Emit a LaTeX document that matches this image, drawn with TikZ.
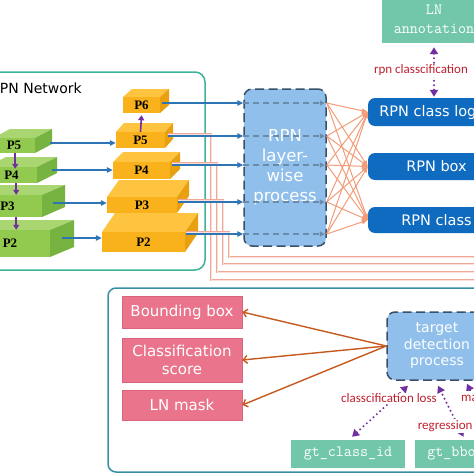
\documentclass[tikz,border=0pt]{standalone}
\usepackage{fontspec}
\setmainfont{DejaVu Sans}
\newfontfamily\lblfont{Carlito}
\newfontfamily\pfont{Liberation Serif}
\usetikzlibrary{arrows.meta,calc}
\definecolor{gfront}{HTML}{92C94F}
\definecolor{gtop}{HTML}{AAD672}
\definecolor{gside}{HTML}{77B340}
\definecolor{ofront}{HTML}{F9B21B}
\definecolor{otop}{HTML}{FFC43F}
\definecolor{oside}{HTML}{E9A010}
\definecolor{arrblue}{HTML}{2E75B6}
\definecolor{purp}{HTML}{7030A0}
\definecolor{peachc}{HTML}{EFA898}
\definecolor{peachin}{HTML}{FBE0D8}
\definecolor{fanc}{HTML}{F39C78}
\definecolor{lblue}{HTML}{8FBFEA}
\definecolor{dashc}{HTML}{3A5068}
\definecolor{inarr}{HTML}{6A8BAA}
\definecolor{dblue}{HTML}{0E6BC0}
\definecolor{mint}{HTML}{72C7AA}
\definecolor{redlbl}{HTML}{C0202F}
\definecolor{pinkc}{HTML}{E9748B}
\definecolor{pinkd}{HTML}{D8657C}
\definecolor{brownc}{HTML}{C65A1E}
\definecolor{netc}{HTML}{3DB39B}
\definecolor{botc}{HTML}{3A8FA6}
\tikzset{
  face/.style={inner sep=0pt, font=\pfont\bfseries\fontsize{13}{13}\selectfont},
  barrow/.style={draw=arrblue, line width=1.3pt, -{Triangle[length=6pt,width=5.5pt]}},
  dbox/.style={draw=dashc, fill=lblue, line width=1.5pt, dash pattern=on 9pt off 4.5pt, rounded corners=8pt, text=white, align=center, inner sep=0pt},
  bluebox/.style={fill=dblue, rounded corners=7pt, text=white, inner sep=0pt, font=\fontsize{14.5}{17}\selectfont},
  mintbox/.style={fill=mint, text=white, inner sep=0pt, font=\ttfamily\fontsize{15.6}{19}\selectfont, align=center},
  pinkbox/.style={fill=pinkc, draw=pinkd, line width=0.6pt, text=white, inner sep=0pt, align=center, font=\fontsize{15}{18}\selectfont},
  lbl/.style={text=redlbl, font=\lblfont\fontsize{13}{13}\selectfont, fill=white, inner sep=1pt},
  pdot/.style={draw=purp, line width=2.2pt, dash pattern=on 0pt off 4.5pt, line cap=round, {Triangle[length=7pt,width=8pt]}-{Triangle[length=7pt,width=8pt]}},
  fan/.style={draw=fanc, line width=1pt, -{Triangle[length=6pt,width=4.5pt]}},
  peach/.style={draw=peachc, line width=0.8pt, double=peachin, double distance=1pt},
  inarrow/.style={draw=inarr, line width=1.2pt, dash pattern=on 6pt off 4pt, -{Triangle[length=5pt,width=5pt]}},
  brarrow/.style={draw=brownc, line width=1.4pt, -{Straight Barb[length=4pt,width=8pt]}},
  parrow/.style={draw=purp, line width=1.6pt, -{Triangle[length=5pt,width=6pt]}},
  framebox/.style={line width=1.5pt, rounded corners=10pt}
}
% #1 name, #2 x1, #3 y1, #4 x2, #5 y2, #6 dx, #7 dy, #8 colour prefix, #9 label
\newcommand\mkblock[9]{%
  \fill[#8top] (#2,#3) -- (#2+#6,#3-#7) -- (#4+#6,#3-#7) -- (#4,#3) -- cycle;
  \fill[#8side] (#4,#3) -- (#4+#6,#3-#7) -- (#4+#6,#5-#7) -- (#4,#5) -- cycle;
  \node[face, fill=#8front, minimum width={(#4)-(#2)}, minimum height={(#5)-(#3)}] (#1) at ({((#2)+(#4))/2},{((#3)+(#5))/2}) {#9};
}
\begin{document}
\begin{tikzpicture}[x=1pt,y=-1pt]
\useasboundingbox (0,0) rectangle (474,474);
\clip (0,0) rectangle (474,474);
\fill[white] (0,0) rectangle (474,474);

% frames
\draw[framebox, draw=netc] (-20,72) rectangle (205,270);
\node[anchor=west, inner sep=0pt, font=\fontsize{14}{16}\selectfont] (nettitle) at (-10,88) {RPN Network};
\draw[framebox, draw=botc, rounded corners=8pt] (108,288) rectangle (520,472);

% green blocks
\mkblock{g5}{-7}{138}{35}{153}{17}{9}{g}{P5}
\mkblock{g4}{-14}{167}{37}{183}{20}{10}{g}{P4}
\mkblock{g3}{-27}{195}{42}{217}{23}{10}{g}{P3}
\mkblock{g2}{-30}{230}{50}{257}{24}{10}{g}{P2}

% orange blocks
\mkblock{o6}{123}{97}{160}{113}{9}{8}{o}{P6}
\mkblock{o5}{116}{132}{165}{148}{8}{9}{o}{P5}
\mkblock{o4}{113}{162}{170}{179}{10}{10}{o}{P4}
\mkblock{o3}{107}{197}{177}{213}{12}{17}{o}{P3}
\mkblock{o2}{102}{232}{185}{252}{13}{19}{o}{P2}

% purple arrows between pyramid levels
\draw[parrow] ([xshift=-20pt]g5.south east) -- ([xshift=-20pt,yshift=-2pt]g5.south east |- g4.north);
\draw[parrow] ([xshift=-21pt]g4.south east) -- ([xshift=-21pt]g4.south east |- g3.north);
\draw[parrow] ([xshift=-26pt]g3.south east) -- ([xshift=-26pt]g3.south east |- g2.north);
\draw[parrow] (o5.north) -- ([yshift=-2pt]o6.south);

% main objects
\node[dbox, minimum width=82pt, minimum height=157pt, font=\fontsize{16.5}{20}\selectfont] (rpn) at (285,167.5) {RPN\\layer-\\wise\\process};
\node[bluebox, minimum width=137pt, minimum height=28pt] (rcl) at (436.5,112) {RPN class logits};
\node[bluebox, minimum width=137pt, minimum height=27pt] (rbx) at (436.5,166.5) {RPN box};
\node[bluebox, minimum width=137pt, minimum height=26pt] (rcs) at (436.5,220) {RPN class};
\node[mintbox, minimum width=104pt, minimum height=47pt] (lna) at (434,19.5) {LN\\annotation};

\node[pinkbox, minimum width=120pt, minimum height=32pt] (bb) at (182,312) {Bounding box};
\node[pinkbox, minimum width=120pt, minimum height=44pt] (cs) at (182,360) {Classification\\score};
\node[pinkbox, minimum width=120pt, minimum height=30pt] (lnm) at (182,405) {LN mask};
\node[dbox, minimum width=100pt, minimum height=68pt, font=\fontsize{14}{16.5}\selectfont] (tdp) at (437,346) {target\\detection\\process};
\node[mintbox, minimum width=114pt, minimum height=28pt] (gtc) at (348,454) {gt\_class\_id};
\node[mintbox, minimum width=81pt, minimum height=28pt] (gtb) at (455.5,454) {gt\_bbox};

% level coordinates
\coordinate (g5s) at ([xshift=15pt,yshift=2.5pt]g5.east);
\coordinate (g4s) at ([xshift=15pt,yshift=5pt]g4.east);
\coordinate (g3s) at ([xshift=11pt,yshift=3pt]g3.east);
\coordinate (g2s) at ([xshift=12pt,yshift=5.5pt]g2.east);
\coordinate (L1) at ([xshift=2pt,yshift=2pt]o6.east);
\coordinate (L2) at ([xshift=3pt,yshift=4pt]o5.east);
\coordinate (L3) at ([xshift=2pt,yshift=5.5pt]o4.east);
\coordinate (L4) at ([xshift=1pt,yshift=3pt]o3.east);
\coordinate (L5) at ([xshift=1pt,yshift=8pt]o2.east);

% peach bypass lines
\coordinate (c2) at (211,280); \coordinate (e2) at (500,280);
\coordinate (c3) at (217,272); \coordinate (e3) at (500,272);
\coordinate (c4) at (223,264); \coordinate (e4) at (500,264);
\coordinate (c5) at (229,257); \coordinate (e5) at (500,257);
\draw[peach] ([yshift=2pt]L2) -| (c2) -- (e2);
\draw[peach] ([yshift=1.5pt]L3) -| (c3) -- (e3);
\draw[peach] ([yshift=2pt]L4) -| (c4) -- (e4);
\draw[peach] ([yshift=2pt]L5) -| (c5) -- (e5);

% blue arrows
\draw[barrow] (g5s) -- (g5s -| o5.west);
\draw[barrow] (g4s) -- (g4s -| o4.west);
\draw[barrow] (g3s) -- (g3s -| o3.west);
\draw[barrow] (g2s) -- (g2s -| o2.west);
\foreach \l in {L1,L2,L3,L4,L5}{
  \draw[barrow] (\l) -- (\l -| rpn.west);
  \draw[inarrow, shorten >=2pt] (\l -| rpn.west) -- (\l -| rpn.east);
}

% fan
\foreach \l in {L1,L2,L3,L4,L5}{
  \foreach \t in {rcl,rbx,rcs}{
    \draw[fan] (\l -| rpn.east) -- (\t.west);
  }
}

% brown arrows
\draw[brarrow] (tdp.west) -- (bb.east);
\draw[brarrow] (tdp.west) -- (cs.east);
\draw[brarrow] (tdp.west) -- (lnm.east);

% purple dotted links
\draw[pdot, shorten <=4pt, shorten >=1pt] (lna.south) -- (lna.south |- rcl.north)
  node[midway, lbl, xshift=-13pt] (rpnlbl) {rpn classcification};
\coordinate (mk) at (492,437);
\draw[pdot] ([xshift=4pt,yshift=3pt]gtc.north) -- ([xshift=-29pt,yshift=-5pt]tdp.south)
  node[pos=0.75, lbl, xshift=-5pt] (cllbl) {classcification loss};
\draw[pdot] ([xshift=8pt,yshift=3pt]gtb.north) -- ([xshift=1pt,yshift=-5pt]tdp.south)
  node[pos=0.21, lbl, xshift=-13pt] (rglbl) {regression};
\draw[pdot] (mk) -- ([xshift=30pt,yshift=-3pt]tdp.south);
\node[lbl, anchor=west] (mklbl) at (460,397) {mask loss};
\end{tikzpicture}
\end{document}
